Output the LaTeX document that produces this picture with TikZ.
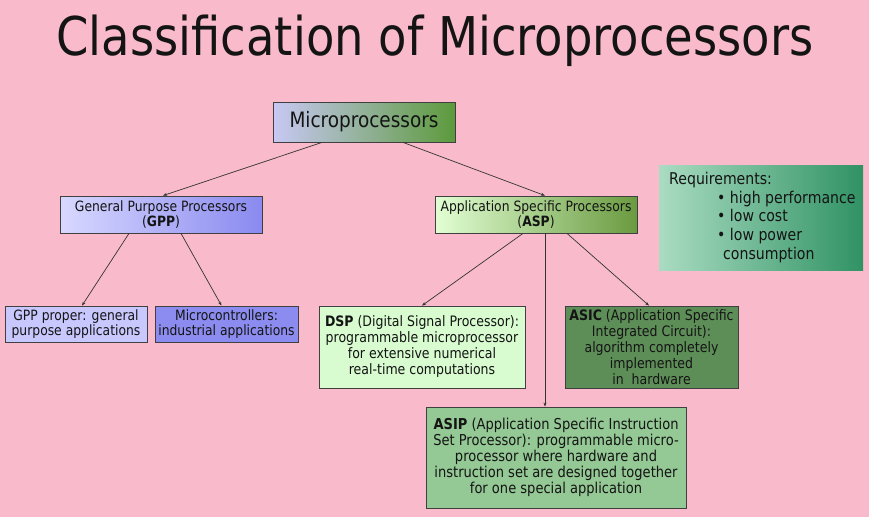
\documentclass[tikz,border=0pt]{standalone}
\usepackage{fontspec}
\setmainfont{DejaVu Sans}[FakeStretch=0.87]
\usetikzlibrary{arrows.meta}
\definecolor{bg}{HTML}{F9BBCB}
\definecolor{mpL}{HTML}{C8C8F4}
\definecolor{mpR}{HTML}{5C9A3C}
\definecolor{gppL}{HTML}{D8D8FF}
\definecolor{gppR}{HTML}{8A8AF0}
\definecolor{aspL}{HTML}{E2FFD4}
\definecolor{aspR}{HTML}{6A9A40}
\definecolor{reqL}{HTML}{AADCC2}
\definecolor{reqR}{HTML}{309264}
\definecolor{gpppF}{HTML}{C8C8FF}
\definecolor{mcF}{HTML}{8C8CF0}
\definecolor{dspF}{HTML}{D8FCD0}
\definecolor{asicF}{HTML}{5E8E58}
\definecolor{asipF}{HTML}{94C894}
\definecolor{ink}{HTML}{141414}
\begin{document}
\begin{tikzpicture}[x=1pt,y=-1pt,
  box/.style={draw=black!75, line width=0.8pt, inner sep=0pt, align=center, text=ink},
  conn/.style={draw=black!80, line width=0.7pt, -{Stealth[length=4pt,width=3pt]}},
  smalltxt/.style={font=\fontsize{14.2}{15}\selectfont},
  midtxt/.style={font=\fontsize{14.4}{16}\selectfont}]
\fill[bg] (0,0) rectangle (869,517);
\useasboundingbox (0,0) rectangle (869,517);

\node[anchor=base, text=ink, font=\fontsize{53.4}{60}\selectfont] (title) at (435,55) {Classification of Microprocessors};

\node[box, minimum width=182pt, minimum height=40pt, left color=mpL, right color=mpR,
  font=\fontsize{21.2}{24}\selectfont] (mp) at (364,122) {Microprocessors};

\node[box, smalltxt, minimum width=202pt, minimum height=37pt, left color=gppL, right color=gppR]
  (gpp) at (161,214.5) {General Purpose Processors\\(\textbf{GPP})};
\node[box, smalltxt, minimum width=202pt, minimum height=37pt, left color=aspL, right color=aspR]
  (asp) at (536,214.5) {Application Specific Processors\\(\textbf{ASP})};

\node[minimum width=204pt, minimum height=105pt, inner sep=0pt, left color=reqL, right color=reqR]
  (req) at (761,217.5) {};
\node[anchor=north west, align=left, inner sep=0pt, text=ink, font=\fontsize{16.2}{18.7}\selectfont]
  (reqtext) at (669,172) {Requirements:\\
  \hspace*{48pt}• high performance\\
  \hspace*{48pt}• low cost\\
  \hspace*{48pt}• low power\\
  \hspace*{54pt}consumption};

\node[box, smalltxt, minimum width=142pt, minimum height=36pt, fill=gpppF]
  (gppp) at (76,324) {GPP proper: general\\purpose applications};
\node[box, smalltxt, minimum width=143pt, minimum height=36pt, fill=mcF]
  (mc) at (226.5,324) {Microcontrollers:\\industrial applications};

\node[box, midtxt, minimum width=206pt, minimum height=82pt, fill=dspF]
  (dsp) at (422,347) {\textbf{DSP} (Digital Signal Processor):\\programmable microprocessor\\for extensive numerical\\real-time computations};
\node[box, midtxt, minimum width=173pt, minimum height=82pt, fill=asicF]
  (asic) at (651.5,347) {\textbf{ASIC} (Application Specific\\Integrated Circuit):\\algorithm completely\\implemented\\in\ \ hardware};
\node[box, font=\fontsize{15}{16}\selectfont, minimum width=260pt, minimum height=101pt, fill=asipF]
  (asip) at (556,457.5) {\textbf{ASIP} (Application Specific Instruction\\Set Processor): programmable micro-\\processor where hardware and\\instruction set are designed together\\for one special application};

\draw[conn] ([xshift=-42pt]mp.south) -- ([xshift=2pt]gpp.north);
\draw[conn] ([xshift=39pt]mp.south) -- ([xshift=9pt]asp.north);
\draw[conn] ([xshift=-32pt]gpp.south) -- ([xshift=6pt]gppp.north);
\draw[conn] ([xshift=20pt]gpp.south) -- ([xshift=-5pt]mc.north);
\draw[conn] ([xshift=-13pt]asp.south) -- ([xshift=0pt]dsp.north);
\draw[conn] ([xshift=9pt]asp.south) -- ([xshift=-11pt]asip.north);
\draw[conn] ([xshift=31pt]asp.south) -- ([xshift=-2.5pt]asic.north);
\end{tikzpicture}
\end{document}
